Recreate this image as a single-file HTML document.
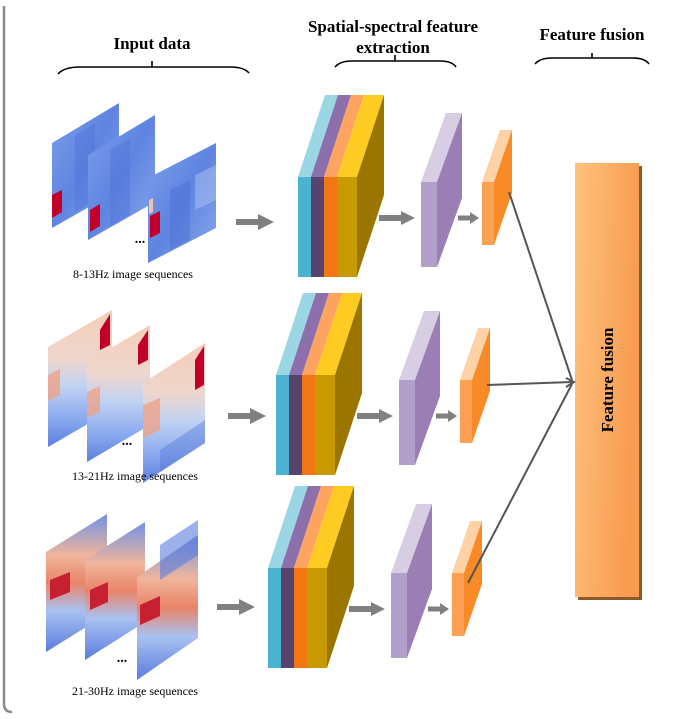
<!DOCTYPE html>
<html><head><meta charset="utf-8"><style>
html,body{margin:0;padding:0;background:#fff;}
svg{display:block;}
text{font-family:"Liberation Serif",serif;}
</style></head><body>
<svg width="685" height="719" viewBox="0 0 685 719" xmlns="http://www.w3.org/2000/svg">
<defs>
<linearGradient id="ff" x1="0" y1="0" x2="1" y2="0.3">
<stop offset="0" stop-color="#FDC27E"/><stop offset="1" stop-color="#F89B50"/></linearGradient>
<linearGradient id="g1" x1="0" y1="0" x2="1" y2="1">
<stop offset="0" stop-color="#7E9FEC"/><stop offset="0.5" stop-color="#5F84E0"/><stop offset="1" stop-color="#88A8EE"/></linearGradient>
<linearGradient id="g2" x1="0" y1="0" x2="0" y2="1">
<stop offset="0" stop-color="#F4CDB8"/><stop offset="0.35" stop-color="#EFD6CC"/><stop offset="0.55" stop-color="#C3D3F2"/><stop offset="0.8" stop-color="#89A9EE"/><stop offset="1" stop-color="#5C7FDE"/></linearGradient>
<linearGradient id="g3" x1="0" y1="0" x2="0" y2="1">
<stop offset="0" stop-color="#6F92E6"/><stop offset="0.3" stop-color="#F0B59C"/><stop offset="0.5" stop-color="#E98468"/><stop offset="0.7" stop-color="#A9C1F2"/><stop offset="1" stop-color="#5A7CDC"/></linearGradient>
<g id="blk">
<polygon points="298,177 311,177 338,95 325,95" fill="#9AD6E4"/>
<polygon points="311,177 324,177 351,95 338,95" fill="#8C6FAB"/>
<polygon points="324,177 337,177 364,95 351,95" fill="#FDA460"/>
<polygon points="337,177 357,177 384,95 364,95" fill="#FDCB22"/>
<rect x="298" y="177" width="13" height="100" fill="#4BB3D0"/>
<rect x="311" y="177" width="13" height="100" fill="#55456E"/>
<rect x="324" y="177" width="13" height="100" fill="#F27612"/>
<rect x="337" y="177" width="20" height="100" fill="#C69A00"/>
<polygon points="357,177 384,95 384,195 357,277" fill="#9A7500"/>
<polygon points="379,215 401,215 401,211 415,218 401,225 401,221 379,221" fill="#808080"/>
<polygon points="421,182 437,182 462,113 446,113" fill="#D8CEE4"/>
<rect x="421" y="182" width="16" height="85" fill="#B1A0C9"/>
<polygon points="437,182 462,113 462,198 437,267" fill="#9A7EB4"/>
<polygon points="458,215.5 470,215.5 470,212 479,218 470,224 470,220.5 458,220.5" fill="#808080"/>
<polygon points="482,182 494,182 512,130 500,130" fill="#FDD2A6"/>
<rect x="482" y="182" width="12" height="63" fill="#FCA154"/>
<polygon points="494,182 512,130 512,193 494,245" fill="#F98A28"/>
</g>
</defs>

<path d="M4,6 V704 Q4,712 12,712" fill="none" stroke="#8a8a8a" stroke-width="2.5"/>

<text x="152" y="49" font-size="17" font-weight="bold" text-anchor="middle">Input data</text>
<text x="393" y="32" font-size="17" font-weight="bold" text-anchor="middle">Spatial-spectral feature</text>
<text x="393" y="53" font-size="17" font-weight="bold" text-anchor="middle">extraction</text>
<text x="592" y="40" font-size="17" font-weight="bold" text-anchor="middle">Feature fusion</text>

<g fill="none" stroke="#000" stroke-width="1.6">
<path d="M58,74 Q64,67 80,67 H230 Q244,67 249,73"/><path d="M152,67 V61"/>
<path d="M335,67 Q340,61 352,61 H440 Q452,61 456,67"/><path d="M395,61 V55"/>
<path d="M535,64 Q540,58 552,58 H633 Q645,58 649,64"/><path d="M592,58 V53"/>
</g>

<!-- Row 1 panels -->
<g>
<polygon points="52,143 119,103 119,190 52,228" fill="url(#g1)"/>
<polygon points="75,135 95,123 95,200 75,212" fill="#4F74D8" opacity="0.45"/>
<polygon points="52,195 62,190 62,212 52,218" fill="#C0002A"/>
<polygon points="88,155 155,115 155,202 88,240" fill="url(#g1)"/>
<polygon points="110,150 130,138 130,215 110,227" fill="#4F74D8" opacity="0.45"/>
<polygon points="90,210 100,204 100,226 90,232" fill="#C0002A"/>
<polygon points="148,178 216,143 216,228 148,263" fill="url(#g1)"/>
<polygon points="149,200 153,198 153,212 149,214" fill="#F3C3B0"/>
<polygon points="150,216 160,211 160,233 150,238" fill="#C0002A"/>
<polygon points="170,190 190,180 190,240 170,250" fill="#4A6FD6" opacity="0.5"/>
<polygon points="195,175 216,165 216,200 195,210" fill="#A9C1F2" opacity="0.5"/>
<text x="140" y="243" font-size="14" font-weight="bold" text-anchor="middle">...</text>
<text x="133" y="278" font-size="12" text-anchor="middle">8-13Hz image sequences</text>
<polygon points="236,219 258,219 258,214 274,222 258,230 258,225 236,225" fill="#808080"/>
</g>

<!-- Row 2 panels -->
<g>
<polygon points="48,347 112,310 112,410 48,447" fill="url(#g2)"/>
<polygon points="48,375 60,369 60,395 48,401" fill="#EDA389" opacity="0.8"/>
<polygon points="100,330 110,314 110,345 100,350" fill="#C0002A"/>
<polygon points="87,362 150,325 150,425 87,462" fill="url(#g2)"/>
<polygon points="87,392 100,386 100,412 87,418" fill="#EDA389" opacity="0.8"/>
<polygon points="138,345 148,330 148,360 138,365" fill="#C0002A"/>
<polygon points="143,383 205,343 205,443 143,483" fill="url(#g2)"/>
<polygon points="195,360 204,346 204,385 195,390" fill="#C0002A"/>
<polygon points="143,405 160,398 160,430 143,438" fill="#EDA389" opacity="0.8"/>
<polygon points="160,450 205,420 205,443 160,472" fill="#4F74D8" opacity="0.4"/>
<text x="127" y="445" font-size="14" font-weight="bold" text-anchor="middle">...</text>
<text x="135" y="480" font-size="12" text-anchor="middle">13-21Hz image sequences</text>
<polygon points="228,413 250,413 250,408 266,416 250,424 250,419 228,419" fill="#808080"/>
</g>

<!-- Row 3 panels -->
<g>
<polygon points="46,552 107,514 107,614 46,652" fill="url(#g3)"/>
<polygon points="50,580 70,572 70,592 50,600" fill="#C82033"/>
<polygon points="85,560 145,522 145,622 85,660" fill="url(#g3)"/>
<polygon points="90,590 108,582 108,602 90,610" fill="#C82033"/>
<polygon points="137,577 198,535 198,638 137,680" fill="url(#g3)"/>
<polygon points="140,605 160,596 160,616 140,625" fill="#C82033"/>
<polygon points="160,545 198,520 198,555 160,580" fill="#5A7CDC" opacity="0.6"/>
<text x="122" y="662" font-size="14" font-weight="bold" text-anchor="middle">...</text>
<text x="135" y="695" font-size="12" text-anchor="middle">21-30Hz image sequences</text>
<polygon points="217,604 239,604 239,599 255,607 239,615 239,610 217,610" fill="#808080"/>
</g>

<use href="#blk"/>
<use href="#blk" transform="translate(-22,198)"/>
<use href="#blk" transform="translate(-30,391)"/>

<!-- Feature fusion -->
<rect x="578" y="166" width="64" height="434" fill="#8B5A2B"/>
<rect x="575" y="163" width="64" height="434" fill="url(#ff)"/>
<text transform="translate(613,380) rotate(-90)" font-size="17" font-weight="bold" text-anchor="middle">Feature fusion</text>

<g stroke="#555" stroke-width="2" fill="none">
<line x1="509" y1="192" x2="572" y2="380"/>
<line x1="487" y1="385" x2="572" y2="382"/>
<line x1="468" y1="583" x2="572" y2="384"/>
<path d="M566,378 L574,382 L566,387"/>
</g>
</svg>
</body></html>
